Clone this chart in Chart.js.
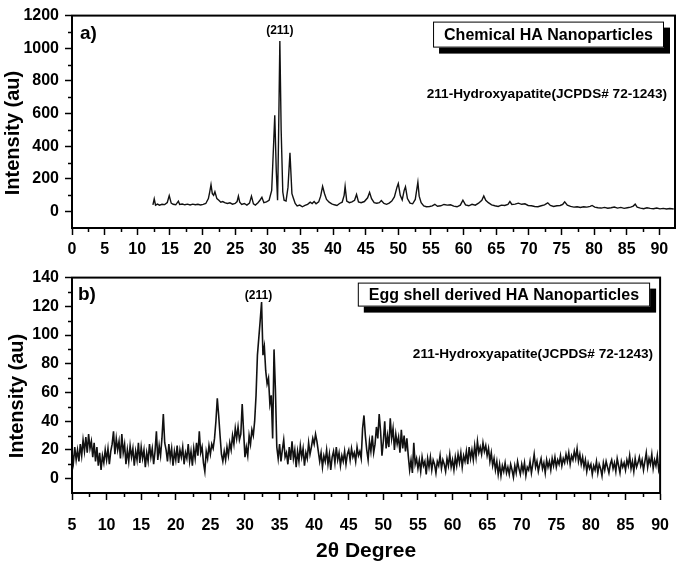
<!DOCTYPE html>
<html><head><meta charset="utf-8">
<script src="https://cdn.jsdelivr.net/npm/chart.js@4.4.1/dist/chart.umd.min.js"></script>
<style>
html,body{margin:0;padding:0;background:#fff;}
#wrap{position:relative;width:685px;height:566px;overflow:hidden;background:#fff;}
canvas{position:absolute;left:0;}
#ca{top:0;width:685px;height:262px;}
#cb{top:262px;width:685px;height:304px;}
</style></head><body>
<div id="wrap"><canvas id="ca" width="685" height="262"></canvas><canvas id="cb" width="685" height="304"></canvas></div>
<script>
// ---------- texts ----------
const yTitle = 'Intensity (au)';
const xTitle = '2θ Degree';
const aPanel = 'a)';
const bPanel = 'b)';
const aLegend = 'Chemical HA Nanoparticles';
const bLegend = 'Egg shell derived HA Nanoparticles';
const refNote = '211-Hydroxyapatite(JCPDS# 72-1243)';
const peakLabel = '(211)';

// ---------- tick labels ----------
const aXTicks = [0,5,10,15,20,25,30,35,40,45,50,55,60,65,70,75,80,85,90];
const aYTicks = [0,200,400,600,800,1000,1200];
const bXTicks = [5,10,15,20,25,30,35,40,45,50,55,60,65,70,75,80,85,90];
const bYTicks = [0,20,40,60,80,100,120,140];

// ---------- panel a: chemical HA (2θ, intensity) ----------
const aTheta = [
12.4,12.6,12.8,13.1,13.4,13.8,14.2,14.6,14.9,15.2,15.5,15.9,16.3,16.5,16.9,17.3,17.7,18.1,18.5,18.9,
19.3,19.7,20.1,20.5,20.9,21.1,21.3,21.5,21.7,21.9,22.2,22.5,22.8,23.1,23.4,23.8,24.2,24.6,25.0,25.3,
25.5,25.7,26.0,26.4,26.8,27.2,27.5,27.8,28.1,28.5,28.8,29.1,29.4,29.8,30.2,30.6,30.9,31.07,31.3,31.5,
31.65,31.85,32.05,32.3,32.5,32.8,33.1,33.4,33.7,33.9,34.2,34.5,34.9,35.3,35.7,36.1,36.5,36.8,37.1,37.4,
37.8,38.1,38.4,38.7,39.0,39.4,39.8,40.2,40.6,41.0,41.4,41.7,41.85,42.1,42.5,42.9,43.3,43.6,43.9,44.3,
44.8,45.3,45.6,45.9,46.3,46.7,47.1,47.4,47.8,48.2,48.6,49.0,49.4,49.8,50.0,50.3,50.6,50.9,51.1,51.4,
51.8,52.2,52.6,53.0,53.2,53.5,53.9,54.3,54.8,55.2,55.6,56.0,56.5,57.0,57.5,58.0,58.5,59.0,59.5,59.9,
60.3,60.8,61.3,61.8,62.3,62.8,63.1,63.4,63.8,64.3,64.8,65.3,65.8,66.3,66.8,67.1,67.4,67.9,68.4,68.9,
69.4,69.9,70.4,70.9,71.4,71.9,72.4,72.9,73.3,73.8,74.3,74.8,75.2,75.5,75.9,76.4,76.9,77.4,77.9,78.4,
78.9,79.4,79.7,80.1,80.6,81.1,81.6,82.1,82.6,83.1,83.6,84.1,84.6,85.1,85.6,86.0,86.3,86.6,87.1,87.6,
88.1,88.6,89.1,89.6,90.1,90.6,91.1,91.6,92.2
];
const aIntensity = [
42,78,40,46,40,45,43,56,98,52,45,42,64,44,47,42,46,41,46,42,
45,41,45,50,80,120,165,110,100,122,80,70,58,62,55,50,54,46,50,62,
95,58,44,50,40,52,95,48,40,55,70,88,55,60,70,130,420,590,250,70,
450,1045,500,120,70,65,150,360,110,85,50,35,40,30,38,45,58,50,62,48,
60,95,155,110,75,58,48,42,38,50,58,100,155,65,55,60,70,105,60,55,
62,85,118,80,55,52,55,68,50,45,52,65,90,150,172,100,72,130,152,80,
52,48,75,180,95,55,35,30,32,35,45,33,36,44,40,42,34,30,40,70,
42,36,45,40,52,70,96,70,55,42,36,32,40,38,45,62,44,46,52,45,
48,38,36,32,30,36,42,54,38,32,36,38,45,60,40,32,28,30,26,30,
28,32,38,28,24,22,26,21,24,28,22,26,20,24,28,34,46,28,22,18,
24,20,18,22,17,20,16,19,16
];

// ---------- panel b: egg shell HA, scan 5..90 deg, step 0.2 deg ----------
const bScanStart = 5;
const bScanStep = 0.2;
const bIntensity = [
18,11,22,13,20,  12,24,16,27,19,  29,18,31,21,26,  15,25,12,22,9,   18,6,16,11,20,
13,21,10,19,24,  33,17,28,20,26,  14,31,18,24,10,  20,12,23,15,21,  9,19,13,25,11,
22,14,20,8,18,   12,24,15,21,10,  19,33,13,23,16,  28,45,25,20,12,  24,14,21,9,19,
13,23,11,20,15,  22,10,18,14,24,  12,19,9,21,14,   25,16,33,18,22,  11,5,19,14,23,
17,24,21,28,40,  56,44,30,17,12,  19,13,22,16,25,  20,30,24,35,28,  36,27,31,52,33,
15,22,16,30,24,  34,30,40,58,86,  98,110,123,86,92, 75,66,70,52,58, 28,90,62,22,14,
24,12,20,27,15,  18,10,22,13,26,  14,20,8,19,12,   23,15,21,9,18,   14,25,17,22,28,
24,31,26,19,12,  18,8,16,12,20,   10,17,6,15,19,   11,22,13,18,9,   16,12,19,10,17,
20,13,21,15,18,  12,22,16,19,14,  35,44,30,20,13,  26,19,30,18,24,  36,28,45,33,16,
26,40,21,30,22,  42,28,35,20,31,  24,29,18,34,21,  30,19,28,16,6,   13,4,25,10,14,
7,13,5,15,9,     12,3,14,8,15,    6,13,10,4,12,    9,16,7,13,10,    5,14,9,17,8,
13,6,15,9,17,    11,18,8,16,12,   19,10,22,14,20,  13,23,15,26,18,  22,17,25,19,23,
16,21,12,18,9,   14,6,12,3,10,    2,9,5,11,4,      8,3,10,6,1,      9,4,12,7,3,
10,5,11,2,8,     6,12,4,10,17,    8,12,5,10,14,    7,11,4,13,8,     12,6,14,9,15,
8,13,10,16,9,    14,11,17,12,18,  10,16,13,19,14,  21,12,17,10,15,  8,13,5,11,7,
10,3,9,6,12,     4,10,7,2,11,     6,12,8,4,10,     13,7,11,5,14,    9,4,12,8,11,
6,13,9,16,7,     12,5,14,8,11,    15,9,13,6,12,    18,8,14,10,17,   7,13,9,16,6,
10
];

// ---------- rendering ----------
const FAM = '"Liberation Sans", Arial, Helvetica, sans-serif';
Chart.defaults.font.family = FAM;
Chart.defaults.color = '#000';

const decor = {
  id: 'decor',
  afterDraw(chart, args, o) {
    const {ctx, chartArea: ca} = chart;
    const x = chart.scales.x, y = chart.scales.y;
    ctx.save();
    // frame
    ctx.strokeStyle = '#000';
    ctx.lineWidth = 2;
    ctx.strokeRect(ca.left, ca.top, ca.right - ca.left, ca.bottom - ca.top);
    // minor ticks
    ctx.lineWidth = 1.5;
    ctx.beginPath();
    for (let v = o.xMinorFirst; v < x.max; v += o.xMinorStep) {
      const px = Math.round(x.getPixelForValue(v)) + 0.5;
      ctx.moveTo(px, ca.bottom); ctx.lineTo(px, ca.bottom + 4);
    }
    for (let v = o.yMinorFirst; v < y.max; v += o.yMinorStep) {
      const py = Math.round(y.getPixelForValue(v)) + 0.5;
      ctx.moveTo(ca.left, py); ctx.lineTo(ca.left - 4, py);
    }
    ctx.stroke();
    ctx.fillStyle = '#000';
    // y title
    ctx.save();
    ctx.translate(o.yTitleX, o.yTitleY);
    ctx.rotate(-Math.PI / 2);
    ctx.font = 'bold 20px ' + FAM;
    ctx.textAlign = 'center';
    ctx.textBaseline = 'middle';
    ctx.fillText(yTitle, 0, 0);
    ctx.restore();
    // panel label
    ctx.font = 'bold 19px ' + FAM;
    ctx.textAlign = 'left';
    ctx.textBaseline = 'middle';
    ctx.fillText(o.panel, ca.left + o.panelDx, ca.top + o.panelDy);
    // legend box with shadow
    ctx.font = 'bold 16px ' + FAM;
    const tw = ctx.measureText(o.legend).width;
    const bw = tw + 22, bh = o.boxH;
    const bx = ca.right - o.boxRight - bw, by = ca.top + o.boxTop;
    ctx.fillStyle = '#000';
    ctx.fillRect(bx + 6, by + 6, bw, bh);
    ctx.fillStyle = '#fff';
    ctx.fillRect(bx, by, bw, bh);
    ctx.lineWidth = 1;
    ctx.strokeStyle = '#000';
    ctx.strokeRect(bx + 0.5, by + 0.5, bw - 1, bh - 1);
    ctx.fillStyle = '#000';
    ctx.textAlign = 'center';
    ctx.fillText(o.legend, bx + bw / 2, by + bh / 2 + 1);
    // reference note
    ctx.font = 'bold 13.6px ' + FAM;
    ctx.textAlign = 'right';
    ctx.fillText(refNote, ca.right - o.noteRight, ca.top + o.noteDy);
    // peak label
    ctx.font = 'bold 12px ' + FAM;
    ctx.textAlign = 'center';
    ctx.fillText(peakLabel, x.getPixelForValue(o.peakX), y.getPixelForValue(o.peakY));
    ctx.restore();
  }
};

function axisX(min, max, ticksArr, height, pad, title) {
  return {
    type: 'linear', position: 'bottom', min, max,
    afterFit(s) { s.height = height; },
    afterBuildTicks(s) { s.ticks = ticksArr.map(v => ({value: v})); },
    border: {display: true, color: '#000', width: 2},
    grid: {display: true, drawOnChartArea: false, drawTicks: true, tickLength: 7, tickWidth: 1.5, tickColor: '#000'},
    ticks: {autoSkip: false, maxRotation: 0, minRotation: 0, padding: pad, color: '#000',
      font: {family: FAM, size: 16, weight: 'bold'}, callback: v => String(v)},
    title: title ? {display: true, text: title, color: '#000', font: {family: FAM, size: 21, weight: 'bold'}, padding: {top: 0, bottom: 2}} : {display: false}
  };
}
function axisY(min, max, ticksArr) {
  return {
    type: 'linear', position: 'left', min, max,
    afterFit(s) { s.width = 72; },
    afterBuildTicks(s) { s.ticks = ticksArr.map(v => ({value: v})); },
    border: {display: true, color: '#000', width: 2},
    grid: {display: true, drawOnChartArea: false, drawTicks: true, tickLength: 7, tickWidth: 1.5, tickColor: '#000'},
    ticks: {autoSkip: false, padding: 6, color: '#000',
      font: {family: FAM, size: 16, weight: 'bold'}, callback: v => String(v)}
  };
}

const aPoints = aTheta.map((t, i) => ({x: t, y: aIntensity[i]}));
const bPoints = bIntensity.map((v, i) => ({x: +(bScanStart + i * bScanStep).toFixed(2), y: v}));

new Chart(document.getElementById('ca'), {
  type: 'scatter',
  data: {datasets: [{data: aPoints, showLine: true, borderColor: '#111', borderWidth: 1.4, pointRadius: 0, tension: 0}]},
  options: {
    responsive: false, animation: false, devicePixelRatio: 1,
    layout: {padding: {top: 10, right: 10, left: 0, bottom: 0}},
    scales: {x: axisX(0, 92.4, aXTicks, 34, 5, null), y: axisY(-100, 1200, aYTicks)},
    plugins: {
      legend: {display: false}, tooltip: {enabled: false},
      decor: {xMinorFirst: 2.5, xMinorStep: 5, yMinorFirst: 100, yMinorStep: 200,
        yTitleX: 13, yTitleY: 133, panel: aPanel, panelDx: 8, panelDy: 18,
        legend: aLegend, boxRight: 11, boxTop: 6, boxH: 26, noteRight: 8, noteDy: 79,
        peakX: 31.85, peakY: 1105}
    }
  },
  plugins: [decor]
});

new Chart(document.getElementById('cb'), {
  type: 'scatter',
  data: {datasets: [{data: bPoints, showLine: true, borderColor: '#111', borderWidth: 1.6, pointRadius: 0, tension: 0}]},
  options: {
    responsive: false, animation: false, devicePixelRatio: 1,
    layout: {padding: {top: 13, right: 10, left: 0, bottom: 0}},
    scales: {x: axisX(5, 90, bXTicks, 73, 16, xTitle), y: axisY(-10, 140, bYTicks)},
    plugins: {
      legend: {display: false}, tooltip: {enabled: false},
      decor: {xMinorFirst: 7.5, xMinorStep: 5, yMinorFirst: 10, yMinorStep: 20,
        yTitleX: 17, yTitleY: 134, panel: bPanel, panelDx: 6, panelDy: 17.5,
        legend: bLegend, boxRight: 10, boxTop: 5, boxH: 24, noteRight: 7, noteDy: 77,
        peakX: 31.95, peakY: 127.5}
    }
  },
  plugins: [decor]
});
</script></body></html>
